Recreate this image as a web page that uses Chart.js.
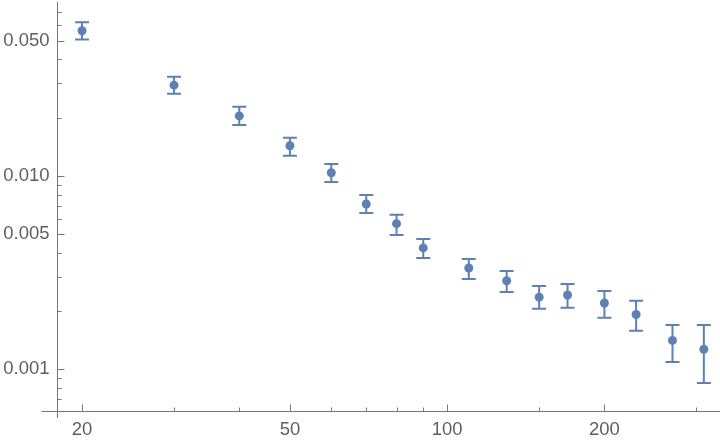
<!DOCTYPE html>
<html><head><meta charset="utf-8">
<script src="https://cdn.jsdelivr.net/npm/chart.js@4"></script>
<style>html,body{margin:0;padding:0;background:#fff;overflow:hidden;} #wrap{width:720px;height:442px;position:relative;}</style>
</head><body><div id="wrap"><canvas id="c"></canvas></div>
<script>
const xValues = [20, 30, 40, 50, 60, 70, 80, 90, 110, 130, 150, 170, 200, 230, 270, 310];
const yValues = [0.0562, 0.0294, 0.0204, 0.0143, 0.01037, 0.00715, 0.00566, 0.00424, 0.00334, 0.00287, 0.00236, 0.00242, 0.00220, 0.00192, 0.00141, 0.00127];
const yLow    = [0.0507, 0.02656, 0.01831, 0.0127, 0.00929, 0.00642, 0.00494, 0.00376, 0.002928, 0.002509, 0.002056, 0.002081, 0.001848, 0.001583, 0.001091, 0.000850];
const yHigh   = [0.0621, 0.0325, 0.02277, 0.01574, 0.01151, 0.00796, 0.006295, 0.004714, 0.003716, 0.003221, 0.002695, 0.00276, 0.00254, 0.002262, 0.001694, 0.001694];
const xMajorTicks = [20, 50, 100, 200];
const xMajorLabels = ['20', '50', '100', '200'];
const xMinorTicks = [30, 40, 60, 70, 80, 90, 150, 300];
const yMajorTicks = [0.001, 0.005, 0.01, 0.05];
const yMajorLabels = ['0.001', '0.005', '0.010', '0.050'];
const yMinorTicks = [0.0007, 0.0008, 0.0009, 0.002, 0.003, 0.004, 0.006, 0.007, 0.008, 0.009, 0.02, 0.03, 0.04, 0.06, 0.07];

const COLOR = '#5e81b5';
const AXIS = '#777777';
const LABEL = '#5f5f5f';
const FONT = {family: '"Liberation Sans", Arial, sans-serif', size: 18.5};

const points = xValues.map((x, i) => ({x: x, y: yValues[i]}));

const axesPlugin = {
  id: 'axesAndErrors',
  beforeDatasetsDraw(chart) {
    const ctx = chart.ctx;
    const xs = chart.scales.x, ys = chart.scales.y;
    const a = chart.chartArea;
    ctx.save();
    ctx.strokeStyle = AXIS;
    ctx.lineWidth = 1;
    const ax = Math.round(a.left) + 0.5;
    const ay = Math.round(a.bottom) + 0.5;
    ctx.beginPath();
    ctx.moveTo(a.left - 15, ay); ctx.lineTo(a.right, ay);
    ctx.moveTo(ax, a.top + 2); ctx.lineTo(ax, a.bottom + 7);
    ctx.stroke();
    ctx.beginPath();
    xMajorTicks.forEach(v => { const p = Math.round(xs.getPixelForValue(v)) + 0.5; ctx.moveTo(p, ay); ctx.lineTo(p, ay - 7); });
    xMinorTicks.forEach(v => { const p = Math.round(xs.getPixelForValue(v)) + 0.5; ctx.moveTo(p, ay); ctx.lineTo(p, ay - 4); });
    yMajorTicks.forEach(v => { const p = Math.round(ys.getPixelForValue(v)) + 0.5; ctx.moveTo(ax, p); ctx.lineTo(ax + 7, p); });
    yMinorTicks.forEach(v => { const p = Math.round(ys.getPixelForValue(v)) + 0.5; ctx.moveTo(ax, p); ctx.lineTo(ax + 4, p); });
    ctx.stroke();
    // error bars
    ctx.strokeStyle = COLOR;
    ctx.lineWidth = 2;
    ctx.beginPath();
    xValues.forEach((x, i) => {
      const px = xs.getPixelForValue(x);
      const lo = ys.getPixelForValue(yLow[i]);
      const hi = ys.getPixelForValue(yHigh[i]);
      ctx.moveTo(px, lo); ctx.lineTo(px, hi);
      ctx.moveTo(px - 7, lo); ctx.lineTo(px + 7, lo);
      ctx.moveTo(px - 7, hi); ctx.lineTo(px + 7, hi);
    });
    ctx.stroke();
    ctx.restore();
  }
};

new Chart(document.getElementById('c'), {
  type: 'scatter',
  data: {datasets: [{data: points, backgroundColor: COLOR, borderWidth: 0, pointRadius: 4.5, pointHoverRadius: 4.5, showLine: false, clip: false}]},
  options: {
    responsive: true, maintainAspectRatio: false, animation: false, devicePixelRatio: 1,
    layout: {padding: 0, autoPadding: false},
    plugins: {legend: {display: false}, tooltip: {enabled: false}},
    events: [],
    scales: {
      x: {
        type: 'logarithmic', position: 'bottom', min: 17.87, max: 332.9, bounds: 'data',
        grid: {display: false, drawTicks: false}, border: {display: false},
        ticks: {autoSkip: false, maxRotation: 0, minRotation: 0, padding: 8, font: FONT, color: LABEL,
          callback: (v) => { const i = xMajorTicks.indexOf(v); return i >= 0 ? xMajorLabels[i] : ''; }},
        afterBuildTicks: s => { s.ticks = xMajorTicks.map(v => ({value: v})); },
        afterFit: s => { s.height = 31; s.paddingLeft = 0; s.paddingRight = 0; s.paddingTop = 0; s.paddingBottom = 0; }
      },
      y: {
        type: 'logarithmic', position: 'left', min: 0.0006088, max: 0.08102, bounds: 'data',
        grid: {display: false, drawTicks: false}, border: {display: false},
        ticks: {autoSkip: false, padding: 7, font: FONT, color: LABEL,
          callback: (v) => { const i = yMajorTicks.findIndex(t => Math.abs(t - v) < 1e-9); return i >= 0 ? yMajorLabels[i] : ''; }},
        afterBuildTicks: s => { s.ticks = yMajorTicks.map(v => ({value: v})); },
        afterFit: s => { s.width = 56.5; s.paddingLeft = 0; s.paddingRight = 0; s.paddingTop = 0; s.paddingBottom = 0; }
      }
    }
  },
  plugins: [axesPlugin]
});
</script></body></html>
